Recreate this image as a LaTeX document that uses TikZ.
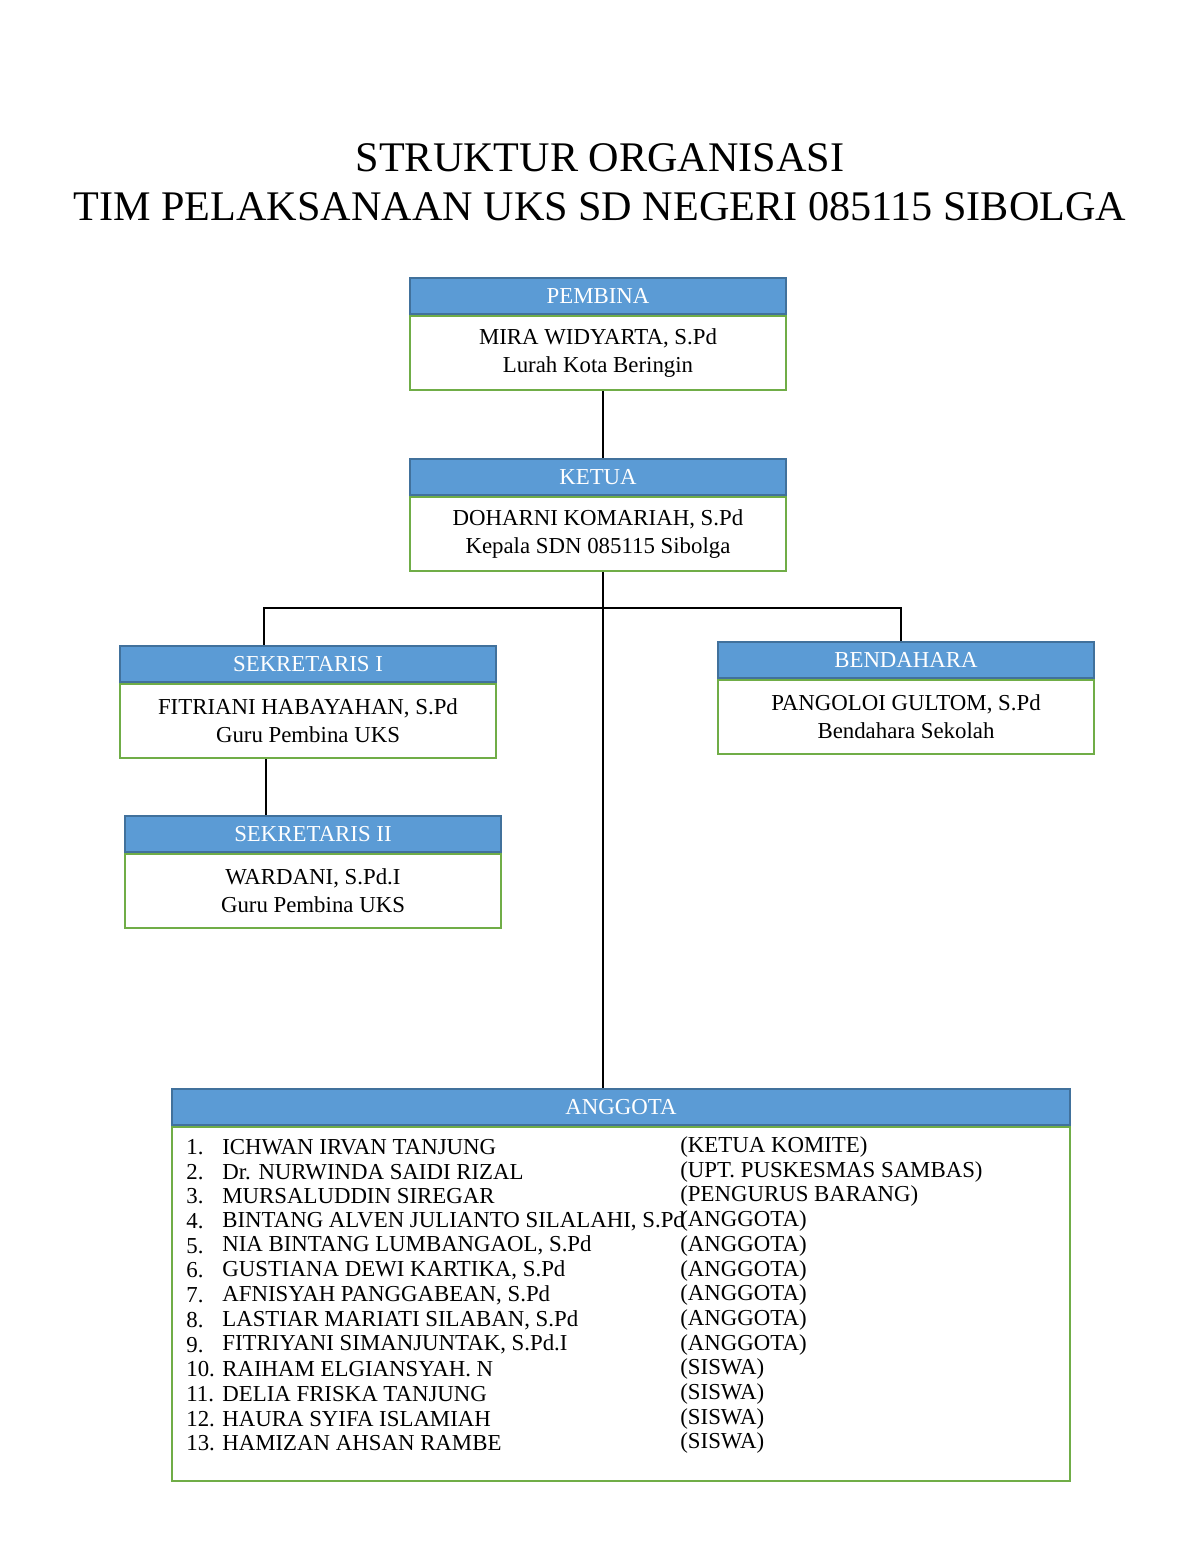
\documentclass[tikz,border=0pt]{standalone}
\usepackage{fontspec}
\setmainfont{Liberation Serif}
\usetikzlibrary{positioning}
\definecolor{hdblue}{HTML}{5B9BD5}
\definecolor{hdline}{HTML}{41719C}
\definecolor{bxgreen}{HTML}{70AD47}
\tikzset{
  head/.style={draw=hdline,fill=hdblue,line width=1.2pt,text=white,minimum width=7.52cm,minimum height=0.72cm,inner sep=0pt,font=\fontsize{13}{15}\selectfont},
  body/.style={draw=bxgreen,line width=1.2pt,fill=white,minimum width=7.52cm,minimum height=1.48cm,align=center,inner sep=0pt,font=\fontsize{13}{16}\selectfont},
  link/.style={draw,line width=0.6pt},
  row/.style={anchor=west,inner sep=0pt,font=\fontsize{13}{15}\selectfont}
}
\begin{document}
\begin{tikzpicture}[x=0.02cm,y=-0.02cm]
  \useasboundingbox (0,0) rectangle (1200,1553);

  % judul
  \node[align=center,font=\fontsize{24}{28}\selectfont] (title) at (600,182)
    {STRUKTUR ORGANISASI\\TIM PELAKSANAAN UKS SD NEGERI 085115 SIBOLGA};

  % pembina
  \node[head] (pembina) at (598,296) {PEMBINA};
  \node[body,below=0pt of pembina] (pembinab) {MIRA WIDYARTA, S.Pd\\Lurah Kota Beringin};

  % ketua
  \node[head] (ketua) at (598,477) {KETUA};
  \node[body,below=0pt of ketua] (ketuab) {DOHARNI KOMARIAH, S.Pd\\Kepala SDN 085115 Sibolga};

  % sekretaris
  \node[head] (sekr1) at (308,664) {SEKRETARIS I};
  \node[body,below=0pt of sekr1] (sekr1b) {FITRIANI HABAYAHAN, S.Pd\\Guru Pembina UKS};
  \node[head] (sekr2) at (313,834) {SEKRETARIS II};
  \node[body,below=0pt of sekr2] (sekr2b) {WARDANI, S.Pd.I\\Guru Pembina UKS};

  % bendahara
  \node[head] (bend) at (906,660) {BENDAHARA};
  \node[body,below=0pt of bend] (bendb) {PANGOLOI GULTOM, S.Pd\\Bendahara Sekolah};

  % anggota
  \node[head,minimum width=17.98cm] (angg) at (621,1107) {ANGGOTA};
  \node[body,below=0pt of angg,minimum width=17.98cm,minimum height=7.08cm] (anggb) {};

  \foreach \n/\nama/\peran [count=\i from 0] in {
    1./ICHWAN IRVAN TANJUNG/(KETUA KOMITE),
    2./Dr. NURWINDA SAIDI RIZAL/(UPT. PUSKESMAS SAMBAS),
    3./MURSALUDDIN SIREGAR/(PENGURUS BARANG),
    4./BINTANG ALVEN JULIANTO SILALAHI{,} S.Pd/(ANGGOTA),
    5./NIA BINTANG LUMBANGAOL{,} S.Pd/(ANGGOTA),
    6./GUSTIANA DEWI KARTIKA{,} S.Pd/(ANGGOTA),
    7./AFNISYAH PANGGABEAN{,} S.Pd/(ANGGOTA),
    8./LASTIAR MARIATI SILABAN{,} S.Pd/(ANGGOTA),
    9./FITRIYANI SIMANJUNTAK{,} S.Pd.I/(ANGGOTA),
    10./RAIHAM ELGIANSYAH. N/(SISWA),
    11./DELIA FRISKA TANJUNG/(SISWA),
    12./HAURA SYIFA ISLAMIAH/(SISWA),
    13./HAMIZAN AHSAN RAMBE/(SISWA)} {
    \node[row] (no\i) at (186,1147+24.7*\i) {\n};
    \node[row] (nm\i) at (222,1147+24.7*\i) {\nama};
    \node[row] (pr\i) at (680,1147+24.7*\i) {\peran};
  }

  % garis
  \coordinate (cab) at (603,608);
  \draw[link] (pembinab.south -| cab) -- (ketua.north -| cab);
  \draw[link] (ketuab.south -| cab) -- (angg.north -| cab);
  \draw[link] (sekr1.north -| 264,0) |- (cab) -| (bend.north -| 901,0);
  \draw[link] (sekr1b.south -| 266,0) -- (sekr2.north -| 266,0);
\end{tikzpicture}
\end{document}
